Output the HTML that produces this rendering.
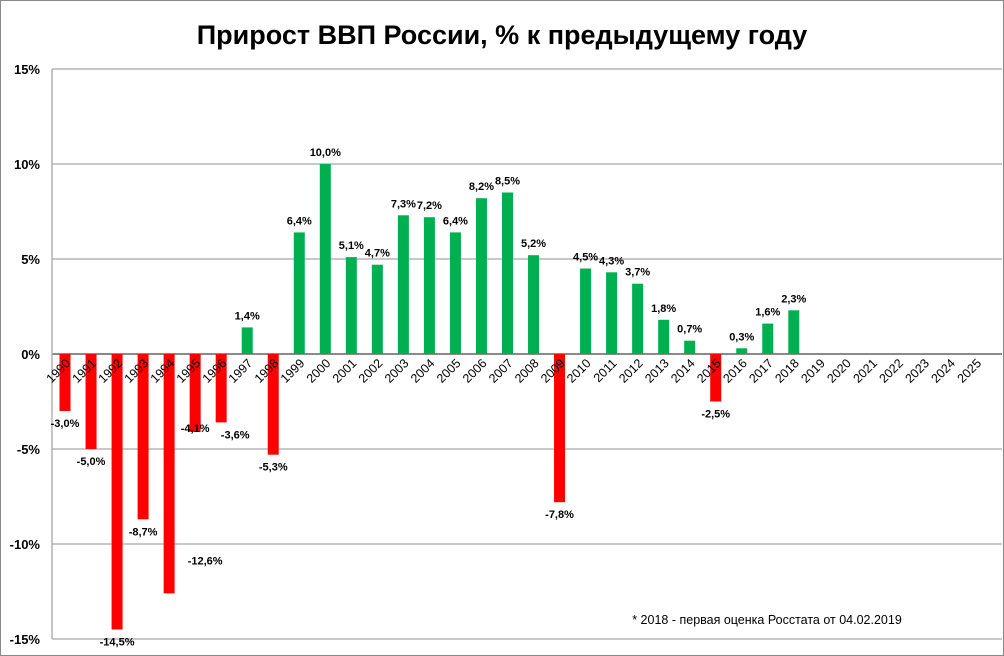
<!DOCTYPE html>
<html><head><meta charset="utf-8"><style>
body{margin:0;background:#fff}
svg{display:block;font-family:"Liberation Sans","DejaVu Sans",sans-serif}
</style></head><body>
<svg id="c" width="1004" height="656" viewBox="0 0 1004 656">
<rect x="0.5" y="0.5" width="1003" height="655" fill="#fff" stroke="#888"/>
<text x="502" y="44" text-anchor="middle" font-size="27" font-weight="bold" fill="#000">Прирост ВВП России, % к предыдущему году</text>
<text x="767" y="624" text-anchor="middle" font-size="12.5" fill="#000">* 2018 - первая оценка Росстата от 04.02.2019</text>
<g id="grid"></g><g id="bars"></g><g id="labels"></g><g id="xl"></g><g id="yl"></g>
</svg>
<script>
const years=[1990,1991,1992,1993,1994,1995,1996,1997,1998,1999,2000,2001,2002,2003,2004,2005,2006,2007,2008,2009,2010,2011,2012,2013,2014,2015,2016,2017,2018,2019,2020,2021,2022,2023,2024,2025];
const values=[-3.0,-5.0,-14.5,-8.7,-12.6,-4.1,-3.6,1.4,-5.3,6.4,10.0,5.1,4.7,7.3,7.2,6.4,8.2,8.5,5.2,-7.8,4.5,4.3,3.7,1.8,0.7,-2.5,0.3,1.6,2.3,null,null,null,null,null,null,null];
const yTicks=[15,10,5,0,-5,-10,-15];
const labelDx=[0,0,0,0,36,0,14,0,0,0,0,0,0,0,0,0,0,0,0,0,0,0,0,0,0,0,0,0,0,0,0,0,0,0,0,0];
const labelDy=[0,0,0,0,-45,-16,0,0,0,0,0,0,0,0,0,0,0,0,0,0,0,0,0,0,0,0,0,0,0,0,0,0,0,0,0];
const X0=52,X1=989,Y0=354,PX=19;
const bw=(X1-X0)/years.length;
const y=v=>Y0-v*PX;
const xc=i=>X0+bw*(i+0.5);
const NS='http://www.w3.org/2000/svg';
function mk(t,a,p,txt){const e=document.createElementNS(NS,t);for(const k in a)e.setAttribute(k,a[k]);if(txt!=null)e.textContent=txt;p.appendChild(e);return e;}
const G=document.getElementById('grid'),B=document.getElementById('bars'),L=document.getElementById('labels'),XL=document.getElementById('xl'),YL=document.getElementById('yl');
yTicks.forEach(t=>{
 const l=mk('line',{x1:X0,x2:1002,y1:y(t),y2:y(t),stroke:t===0?'#8a8a8a':'#a6a6a6','stroke-width':t===0?2:1.3},G);
 
 
 const tx=mk('text',{x:40,y:y(t)+5,'text-anchor':'end','font-size':13,'font-weight':'bold'},YL,t+'%');
 
 
});
const vl=mk('line',{x1:X0,x2:X0,y1:y(15),y2:y(-15),stroke:'#a6a6a6','stroke-width':1.3},G);


years.forEach((yr,i)=>{
 const v=values[i];const cx=xc(i);
 if(v!=null){
  const w=11;
  const r=mk('rect',{x:cx-w/2,y:Math.min(y(v),Y0),width:w,height:Math.abs(y(v)-Y0),fill:v<0?'#ff0000':'#00b050'},B);
  
  
  const s=v.toFixed(1).replace('.',',')+'%';
  const ly=v<0?y(v)+16+labelDy[i]:y(v)-8;
  const t=mk('text',{x:cx+labelDx[i],y:ly,'text-anchor':'middle','font-size':11,'font-weight':'bold'},L,s);
  
  
 }
 const tx=mk('text',{x:cx+6,y:Y0+10,'text-anchor':'end','font-size':12.5,transform:'rotate(-45 '+(cx+6)+' '+(Y0+10)+')'},XL,String(yr));
 
 
});
</script>
</body></html>
